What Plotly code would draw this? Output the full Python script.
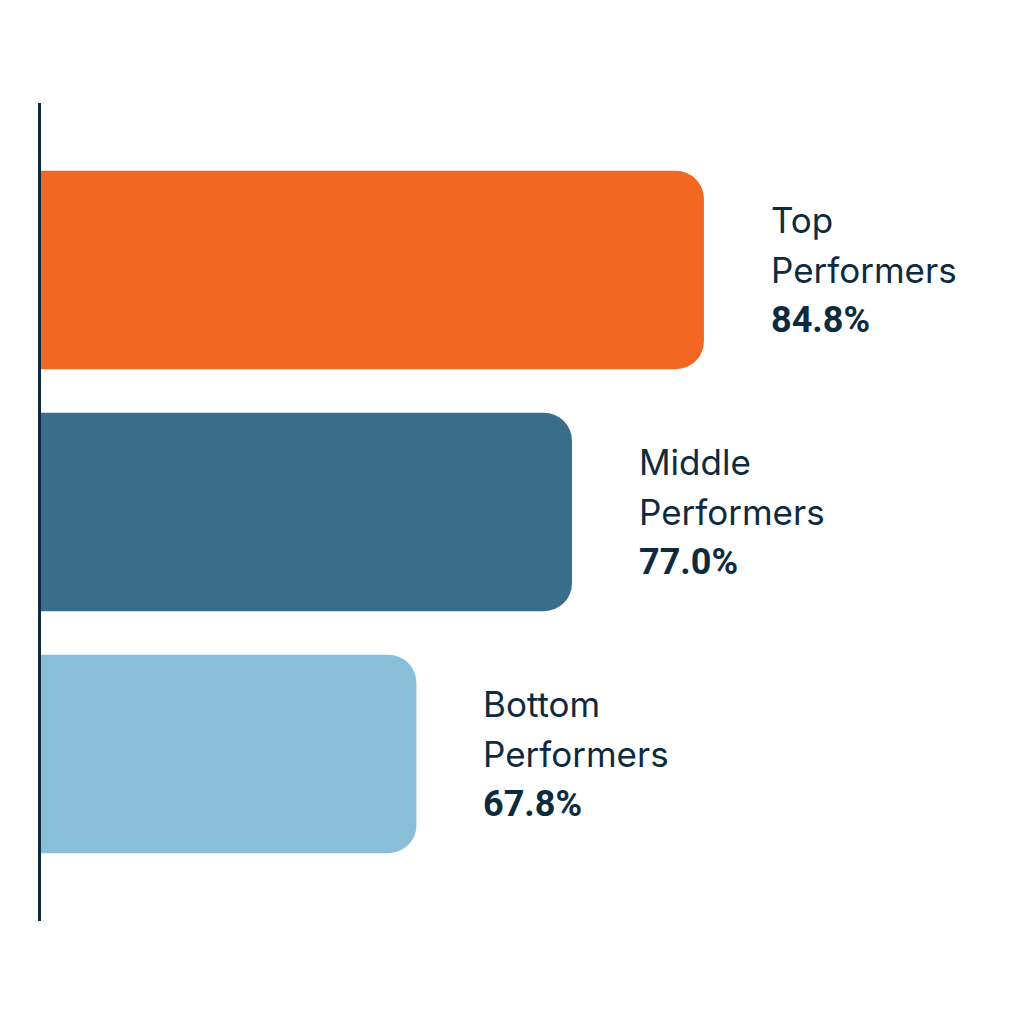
import plotly.graph_objects as go

groups = ["Top", "Middle", "Bottom"]
values = [84.8, 77.0, 67.8]
colors = ["#F26722", "#3A6D8A", "#89BED9"]
ypos = [2, 1, 0]
navy = "#0d2a3f"

fig = go.Figure(go.Bar(
    x=values, y=ypos, orientation="h", width=0.82,
    marker=dict(color=colors, line=dict(width=0)),
    hoverinfo="skip",
))

anns = []
for g, v, y in zip(groups, values, ypos):
    for txt, shift, bold in [(g, 50, False), ("Performers", 0, False), (f"{v:.1f}%", -50, True)]:
        anns.append(dict(
            x=v, y=y, xref="x", yref="y", xanchor="left", yanchor="middle",
            xshift=65, yshift=shift, showarrow=False,
            text=f"<b>{txt}</b>" if bold else txt,
            font=dict(family="Liberation Sans Narrow, Roboto" if bold else "Inter",
                      size=36 if bold else 35, color=navy),
        ))

fig.update_layout(
    width=1024, height=1024,
    margin=dict(l=33, r=0, t=95, b=111),
    paper_bgcolor="white", plot_bgcolor="white",
    barcornerradius=28,
    showlegend=False,
    annotations=anns,
    xaxis=dict(range=[45.6, 104.2], visible=False, fixedrange=True),
    yaxis=dict(range=[-0.69, 2.69], showticklabels=False, showgrid=False,
               zeroline=False, showline=True, linecolor=navy, linewidth=3,
               ticks=""),
)
fig.write_html("out.html")
